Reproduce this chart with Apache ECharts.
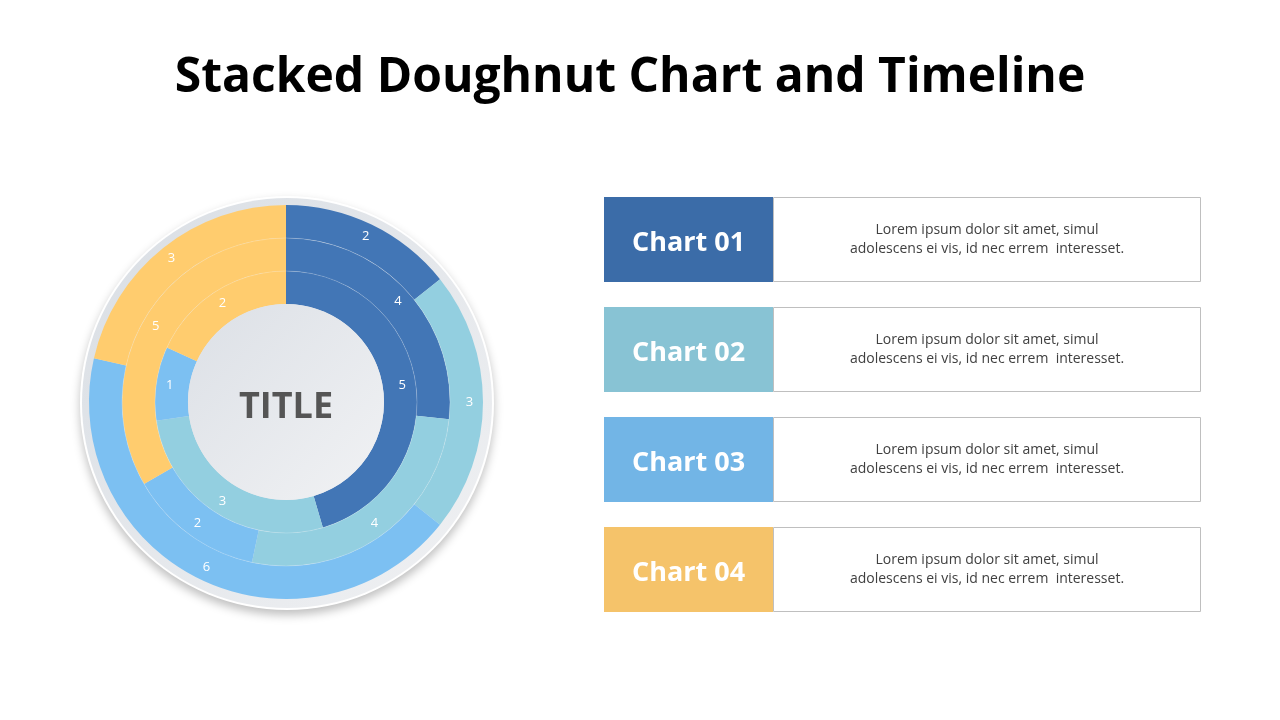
<!DOCTYPE html>
<html>
<head>
<meta charset="utf-8">
<script src="https://cdn.jsdelivr.net/npm/echarts@6/dist/echarts.min.js"></script>
<style>
html,body{margin:0;padding:0;background:#fff;}
#main{width:1280px;height:720px;}
</style>
</head>
<body>
<div id="main"></div>
<script>
var chartTitle = 'Stacked Doughnut Chart and Timeline';
var centerTitle = 'TITLE';
var categories = ['Chart 01', 'Chart 02', 'Chart 03', 'Chart 04'];
var outerValues = [2, 3, 6, 3];
var middleValues = [4, 4, 2, 5];
var innerValues = [5, 3, 1, 2];
var descLine1 = 'Lorem ipsum dolor sit amet, simul';
var descLine2 = 'adolescens ei vis, id nec errem  interesset.';

var ringColors = ['#4276b6', '#93cfe0', '#7cc0f2', '#ffcc6e'];
var boxColors = ['#3b6ca8', '#88c3d4', '#72b5e6', '#f5c36a'];

var cx = 286, cy = 402;

function ringData(vals) {
  return categories.map(function (c, i) {
    return { name: c, value: vals[i], itemStyle: { color: ringColors[i] } };
  });
}

function ringSeries(vals, r0, r1) {
  return {
    type: 'pie',
    center: [cx, cy],
    radius: [r0, r1],
    startAngle: 90,
    clockwise: true,
    animation: false,
    silent: true,
    z: 3,
    label: {
      show: true,
      position: 'inside',
      formatter: '{c}',
      color: '#ffffff',
      fontSize: 13,
      fontFamily: 'Open Sans, Noto Sans, sans-serif'
    },
    labelLine: { show: false },
    itemStyle: { borderWidth: 0 },
    data: ringData(vals)
  };
}

var graphics = [];
// background disc
graphics.push({
  type: 'circle', z: 0,
  shape: { cx: cx + 1, cy: cy + 1, r: 207 },
  style: { fill: '#ffffff', shadowBlur: 10, shadowOffsetY: 5, shadowColor: 'rgba(0,0,0,0.25)' }
});
graphics.push({
  type: 'circle', z: 1,
  shape: { cx: cx + 1, cy: cy + 1, r: 205 },
  style: {
    fill: new echarts.graphic.LinearGradient(0, 0, 1, 1, [
      { offset: 0, color: '#d9dee4' },
      { offset: 1, color: '#f0f1f3' }
    ])
  }
});
// center circle
graphics.push({
  type: 'circle', z: 10,
  shape: { cx: cx, cy: cy, r: 98 },
  style: {
    fill: new echarts.graphic.LinearGradient(0, 0, 1, 1, [
      { offset: 0, color: '#dce0e6' },
      { offset: 1, color: '#f1f2f4' }
    ])
  }
});
graphics.push({
  type: 'text', z: 11,
  x: cx, y: cy + 6,
  style: {
    text: centerTitle, fill: '#555555',
    font: 'bold 36px "Open Sans", "Noto Sans", sans-serif',
    textAlign: 'center', textVerticalAlign: 'middle'
  }
});
// faint ring separators
[131, 164].forEach(function (r) {
  graphics.push({
    type: 'circle', z: 9,
    shape: { cx: cx, cy: cy, r: r },
    style: { fill: null, stroke: 'rgba(255,255,255,0.2)', lineWidth: 1 }
  });
});
// title
graphics.push({
  type: 'text', z: 20,
  x: 630, y: 78,
  style: {
    text: chartTitle, fill: '#000000',
    font: 'bold 48px "Open Sans", "Noto Sans", sans-serif',
    textAlign: 'center', textVerticalAlign: 'middle'
  }
});
// timeline boxes
var boxTops = [197, 307, 417, 527];
categories.forEach(function (c, i) {
  var y = boxTops[i];
  graphics.push({
    type: 'rect', z: 5,
    shape: { x: 773.5, y: y + 0.5, width: 427, height: 84 },
    style: { fill: '#ffffff', stroke: '#bfbfbf', lineWidth: 1 }
  });
  graphics.push({
    type: 'rect', z: 6,
    shape: { x: 604, y: y, width: 169, height: 85 },
    style: { fill: boxColors[i] }
  });
  graphics.push({
    type: 'text', z: 7,
    x: 688.5, y: y + 46,
    style: {
      text: c, fill: '#ffffff',
      font: 'bold 27px "Open Sans", "Noto Sans", sans-serif',
      textAlign: 'center', textVerticalAlign: 'middle'
    }
  });
  graphics.push({
    type: 'text', z: 7,
    x: 987, y: y + 33,
    style: {
      text: descLine1, fill: '#404040',
      font: '14px "Open Sans", "Noto Sans", sans-serif',
      textAlign: 'center', textVerticalAlign: 'middle'
    }
  });
  graphics.push({
    type: 'text', z: 7,
    x: 987, y: y + 52,
    style: {
      text: descLine2, fill: '#404040',
      font: '14px "Open Sans", "Noto Sans", sans-serif',
      textAlign: 'center', textVerticalAlign: 'middle'
    }
  });
});

var chart = echarts.init(document.getElementById('main'), null, { renderer: 'canvas' });
chart.setOption({
  backgroundColor: '#ffffff',
  animation: false,
  graphic: { elements: graphics },
  series: [
    ringSeries(innerValues, 98, 131),
    ringSeries(middleValues, 131, 164),
    ringSeries(outerValues, 164, 197)
  ]
});
</script>
</body>
</html>
